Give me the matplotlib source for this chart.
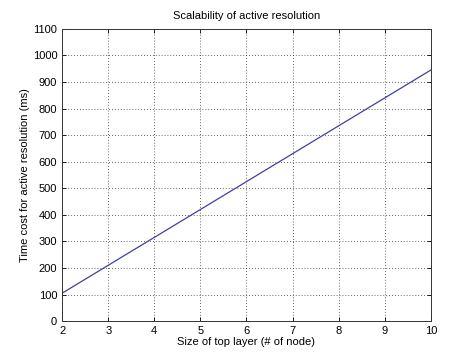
import matplotlib
matplotlib.use('Agg')
import matplotlib.pyplot as plt

# data
nodes = [2, 3, 4, 5, 6, 7, 8, 9, 10]
time_ms = [105, 210, 315, 420, 525, 630, 735, 840, 945]

x_ticks = [2, 3, 4, 5, 6, 7, 8, 9, 10]
y_ticks = [0, 100, 200, 300, 400, 500, 600, 700, 800, 900, 1000, 1100]

plt.rcParams['font.family'] = ['Liberation Sans', 'DejaVu Sans']

fig = plt.figure(figsize=(4.74, 3.56), dpi=100)
ax = fig.add_axes([0.131, 0.098, 0.778, 0.821])

ax.plot(nodes, time_ms, color='#4040a0', linewidth=0.9)

ax.set_xlim(2, 10)
ax.set_ylim(0, 1100)
ax.set_xticks(x_ticks)
ax.set_yticks(y_ticks)
ax.tick_params(direction='in', top=True, right=True, labelsize=8, length=3, width=0.6)
ax.grid(True, color='#333333', linestyle=(0, (1, 2.5)), linewidth=0.6)
for s in ax.spines.values():
    s.set_linewidth(0.7)
    s.set_color('#333333')

ax.set_title('Scalability of active resolution', fontsize=8, pad=7)
ax.set_xlabel('Size of top layer (# of node)', fontsize=8, labelpad=1)
ax.set_ylabel('Time cost for active resolution (ms)', fontsize=8, labelpad=2)

fig.savefig('out.png', dpi=100)
